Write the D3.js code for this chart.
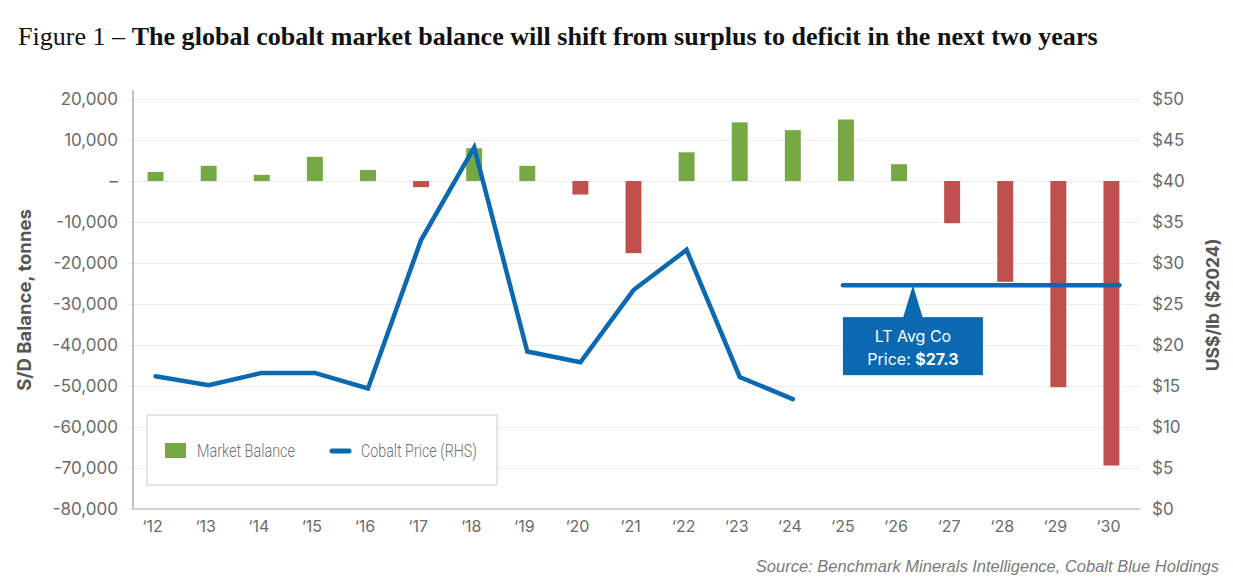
<!DOCTYPE html>
<html>
<head>
<meta charset="utf-8">
<script src="https://cdn.jsdelivr.net/npm/d3@7"></script>
<style>
  body { margin: 0; background: #fff; }
  svg { display: block; }
  .axis path { display: none; }
  .axis text { font-family: Inter, "Open Sans", sans-serif; fill: #6b6b6b; }
</style>
</head>
<body>
<svg id="chart"></svg>
<script>
// chart data
const years = ['12','13','14','15','16','17','18','19','20','21','22','23','24','25','26','27','28','29','30']
const balance = [2200, 3700, 1500, 5900, 2700, -1500, 8000, 3700, -3300, -17600, 7000, 14300, 12400, 15000, 4100, -10300, -24600, -50300, -69400]
const priceYears = ['12','13','14','15','16','17','18','19','20','21','22','23','24']
const price = [16.2, 15.1, 16.6, 16.6, 14.7, 32.8, 44.1, 19.2, 17.9, 26.7, 31.6, 16.1, 13.4]
const ltAvg = 27.3
const ltYears = ['25', '30']
const leftTicks = [20000, 10000, 0, -10000, -20000, -30000, -40000, -50000, -60000, -70000, -80000]
const rightTicks = [0, 5, 10, 15, 20, 25, 30, 35, 40, 45, 50]

const W = 1233, H = 580
const plot = { left: 133, right: 1140, top: 99, bottom: 509 }
const green = '#76a844', red = '#c0504d', blue = '#0a69b1'

const svg = d3.select('#chart').attr('width', W).attr('height', H)

// title, sized to fill the same width as the original
const title = svg.append('text')
    .attr('x', 18).attr('y', 45)
    .style('font-family', '"Liberation Serif", serif')
    .style('font-size', '22px')
    .attr('fill', '#111')
title.append('tspan').style('font-weight', 400).text('Figure 1 – ')
title.append('tspan').style('font-weight', 700)
    .text('The global cobalt market balance will shift from surplus to deficit in the next two years')
const tw = title.node().getComputedTextLength()
title.style('font-size', (22 * 1080 / tw) + 'px')

const x = d3.scaleBand().domain(years).range([129, 1138]).paddingInner(0.7).paddingOuter(0.35)
const yL = d3.scaleLinear().domain([-80000, 20000]).range([plot.bottom, plot.top])
const yR = d3.scaleLinear().domain([0, 50]).range([plot.bottom, plot.top])
const cx = d => x(d) + x.bandwidth() / 2

// left axis with gridlines
const leftFmt = d => d === 0 ? '–' : (d < 0 ? '-' + d3.format(',')(-d) : d3.format(',')(d))
const gL = svg.append('g').attr('class', 'axis')
    .attr('transform', `translate(${plot.left},0)`)
    .call(d3.axisLeft(yL).tickValues(leftTicks).tickFormat(leftFmt)
        .tickSizeInner(-(plot.right - plot.left)).tickSizeOuter(0).tickPadding(15))
gL.selectAll('.tick line').attr('stroke', '#ececec').attr('stroke-width', 1.2).attr('x1', -5)
gL.selectAll('.tick text').style('font-size', '17px')

// right axis
const gR = svg.append('g').attr('class', 'axis')
    .attr('transform', `translate(${plot.right},0)`)
    .call(d3.axisRight(yR).tickValues(rightTicks).tickFormat(d => '$' + d)
        .tickSize(0).tickPadding(12))
gR.selectAll('.tick text').style('font-size', '17px')

// left axis line and bottom axis line
svg.append('line').attr('x1', plot.left).attr('x2', plot.left)
    .attr('y1', 90).attr('y2', plot.bottom).attr('stroke', '#9a9a9a').attr('stroke-width', 1.2)

const gX = svg.append('g').attr('class', 'axis')
    .attr('transform', `translate(0,${plot.bottom})`)
    .call(d3.axisBottom(x).tickFormat(d => '\u2018' + d).tickSize(0).tickPadding(12))
gX.selectAll('.tick text').style('font-size', '16px').attr('dx', -3)
svg.append('line').attr('x1', plot.left).attr('x2', plot.right)
    .attr('y1', plot.bottom).attr('y2', plot.bottom).attr('stroke', '#b0b0b0').attr('stroke-width', 1.2)

// axis titles
svg.append('text')
    .attr('transform', `translate(31,300) rotate(-90)`)
    .attr('text-anchor', 'middle')
    .style('font-family', 'Inter, sans-serif').style('font-size', '18.5px').style('font-weight', 700)
    .attr('fill', '#555')
    .text('S/D Balance, tonnes')
svg.append('text')
    .attr('transform', `translate(1219,305) rotate(-90)`)
    .attr('text-anchor', 'middle')
    .style('font-family', 'Inter, sans-serif').style('font-size', '17.5px').style('font-weight', 700)
    .attr('fill', '#555')
    .text('US$/lb ($2024)')

// bars
svg.append('g').selectAll('rect')
    .data(years.map((d, i) => ({ year: d, value: balance[i] })))
    .join('rect')
    .attr('x', d => x(d.year))
    .attr('width', x.bandwidth())
    .attr('y', d => yL(Math.max(0, d.value)))
    .attr('height', d => Math.abs(yL(d.value) - yL(0)))
    .attr('fill', d => d.value >= 0 ? green : red)

// legend
const leg = svg.append('g')
leg.append('rect').attr('x', 147).attr('y', 415).attr('width', 350).attr('height', 70)
    .attr('fill', '#fff').attr('stroke', '#d4d4d4').attr('stroke-width', 1.2)
leg.append('rect').attr('x', 165).attr('y', 443).attr('width', 21).attr('height', 15).attr('fill', green)
leg.append('text').attr('x', 197).attr('y', 451).attr('dy', '0.35em')
    .style('font-family', 'Roboto, sans-serif').style('font-size', '18px').style('font-weight', 300)
    .attr('textLength', 98).attr('lengthAdjust', 'spacingAndGlyphs')
    .attr('fill', '#707070').text('Market Balance')
leg.append('line').attr('x1', 332).attr('x2', 349).attr('y1', 451).attr('y2', 451)
    .attr('stroke', blue).attr('stroke-width', 5).attr('stroke-linecap', 'round')
leg.append('text').attr('x', 361).attr('y', 451).attr('dy', '0.35em')
    .style('font-family', 'Roboto, sans-serif').style('font-size', '18px').style('font-weight', 300)
    .attr('textLength', 116).attr('lengthAdjust', 'spacingAndGlyphs')
    .attr('fill', '#707070').text('Cobalt Price (RHS)')

// price line
const line = d3.line().x(d => cx(d[0])).y(d => yR(d[1]))
svg.append('path')
    .datum(priceYears.map((d, i) => [d, price[i]]))
    .attr('d', line)
    .attr('fill', 'none').attr('stroke', blue).attr('stroke-width', 4.5)
    .attr('stroke-linecap', 'round').attr('stroke-linejoin', 'miter')

// long-term average line and callout
const ltX0 = cx(ltYears[0]) - 3
const ltX1 = cx(ltYears[1]) + 8
const ltY = yR(ltAvg)
svg.append('line').attr('x1', ltX0).attr('x2', ltX1).attr('y1', ltY).attr('y2', ltY)
    .attr('stroke', blue).attr('stroke-width', 4.5).attr('stroke-linecap', 'round')

const boxW = 140, boxTop = ltY + 32, boxH = 58
const bx = ltX0, bmid = bx + boxW / 2
svg.append('path')
    .attr('d', `M${bmid - 10},${boxTop + 1} L${bmid},${ltY} L${bmid + 10},${boxTop + 1} Z`)
    .attr('fill', blue)
svg.append('rect').attr('x', bx).attr('y', boxTop).attr('width', boxW).attr('height', boxH).attr('fill', blue)
const ct = svg.append('text').attr('text-anchor', 'middle')
    .style('font-family', 'Inter, sans-serif').style('font-size', '16px').attr('fill', '#fff')
ct.append('tspan').attr('x', bmid).attr('y', boxTop + 25).text('LT Avg Co')
const t2 = ct.append('tspan').attr('x', bmid).attr('y', boxTop + 48)
t2.append('tspan').text('Price: ')
t2.append('tspan').style('font-weight', 700).text('$' + ltAvg)

// source
svg.append('text').attr('x', 1219).attr('y', 572).attr('text-anchor', 'end')
    .style('font-family', '"Liberation Sans", Arial, sans-serif').style('font-size', '16.5px')
    .style('font-style', 'italic').attr('fill', '#7a7a7a')
    .text('Source: Benchmark Minerals Intelligence, Cobalt Blue Holdings')
</script>
</body>
</html>
